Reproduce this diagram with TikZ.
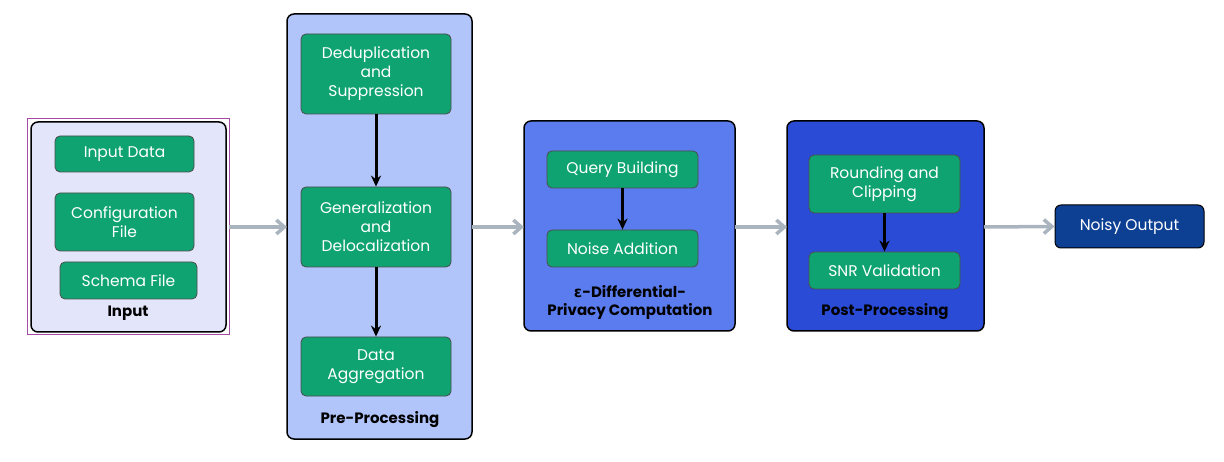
\documentclass[tikz,border=0pt]{standalone}
\usepackage{fontspec}
\setmainfont{Poppins}
\newfontfamily\dvs{DejaVu Sans}
\definecolor{grn}{HTML}{0FA372}
\definecolor{inbg}{HTML}{E3E5FB}
\definecolor{prebg}{HTML}{B2C5FB}
\definecolor{dpbg}{HTML}{5B7CEE}
\definecolor{postbg}{HTML}{2A4BD6}
\definecolor{navy}{HTML}{0D3F93}
\definecolor{garr}{HTML}{A9B4BE}
\usetikzlibrary{arrows.meta}
\begin{document}
\begin{tikzpicture}[x=1pt,y=-1pt,
  cont/.style={draw=black,line width=1.5pt,rounded corners=7pt},
  box/.style={draw=black!70,line width=0.8pt,fill=grn,rounded corners=5pt,text=white,font=\fontsize{15.5}{19}\selectfont,align=center},
  lab/.style={font=\fontsize{15}{18}\selectfont\bfseries,align=center},
  blk/.style={-{Stealth[length=11pt,width=10pt]},line width=3pt,black},
  gry/.style={-{Straight Barb[length=8pt,width=14pt]},line width=3.5pt,garr}]
\useasboundingbox (0,0) rectangle (1224,462);
\draw[violet!70,line width=1pt] (27,119) rectangle (229,335);
\draw[cont,fill=inbg] (31,122) rectangle (226,332);
\node[box,minimum width=139pt,minimum height=36pt] (id) at (124.5,154) {Input Data};
\node[box,minimum width=139pt,minimum height=58pt] (cf) at (124.5,222) {Configuration\\File};
\node[box,minimum width=137pt,minimum height=37pt] (sf) at (128.5,280.5) {Schema File};
\node[lab] (lin) at (128,313) {Input};
\coordinate (inr) at (229,227);

\draw[cont,fill=prebg] (287,14) rectangle (472,439);
\node[box,minimum width=150pt,minimum height=80pt] (dd) at (376,74) {Deduplication\\and\\Suppression};
\node[box,minimum width=150pt,minimum height=80pt] (gd) at (376,227) {Generalization\\and\\Delocalization};
\node[box,minimum width=150pt,minimum height=59pt] (da) at (376,366.5) {Data\\Aggregation};
\node[lab] (lpre) at (380,420) {Pre-Processing};
\coordinate (prel) at (287,227); \coordinate (prer) at (472,227);
\draw[blk] (dd) -- (gd);
\draw[blk] (gd) -- (da);

\draw[cont,fill=dpbg] (524,121) rectangle (735,331);
\node[box,minimum width=151pt,minimum height=37pt] (qb) at (622.5,169.5) {Query Building};
\node[box,minimum width=151pt,minimum height=37pt] (na) at (622.5,248.5) {Noise Addition};
\node[lab] (ldp) at (630,302) {{\dvs\bfseries ε}-Differential-\\Privacy Computation};
\coordinate (dpl) at (524,227); \coordinate (dpr) at (735,227);
\draw[blk] (qb) -- (na);

\draw[cont,fill=postbg] (787,121) rectangle (984,331);
\node[box,minimum width=151pt,minimum height=58pt] (rc) at (884.5,184) {Rounding and\\Clipping};
\node[box,minimum width=151pt,minimum height=37pt] (snr) at (884.5,270.5) {SNR Validation};
\node[lab] (lpost) at (885,312) {Post-Processing};
\coordinate (pol) at (787,227); \coordinate (por) at (984,227);
\draw[blk] (rc) -- (snr);

\node[draw=black,line width=1pt,fill=navy,rounded corners=6pt,text=white,font=\fontsize{15.5}{19}\selectfont,minimum width=149pt,minimum height=43pt] (no) at (1129.5,226.5) {Noisy Output};

\draw[gry] (inr) -- (prel);
\draw[gry] (prer) -- (dpl);
\draw[gry] (dpr) -- (pol);
\draw[gry] (por) -- (no.west);
\end{tikzpicture}
\end{document}
